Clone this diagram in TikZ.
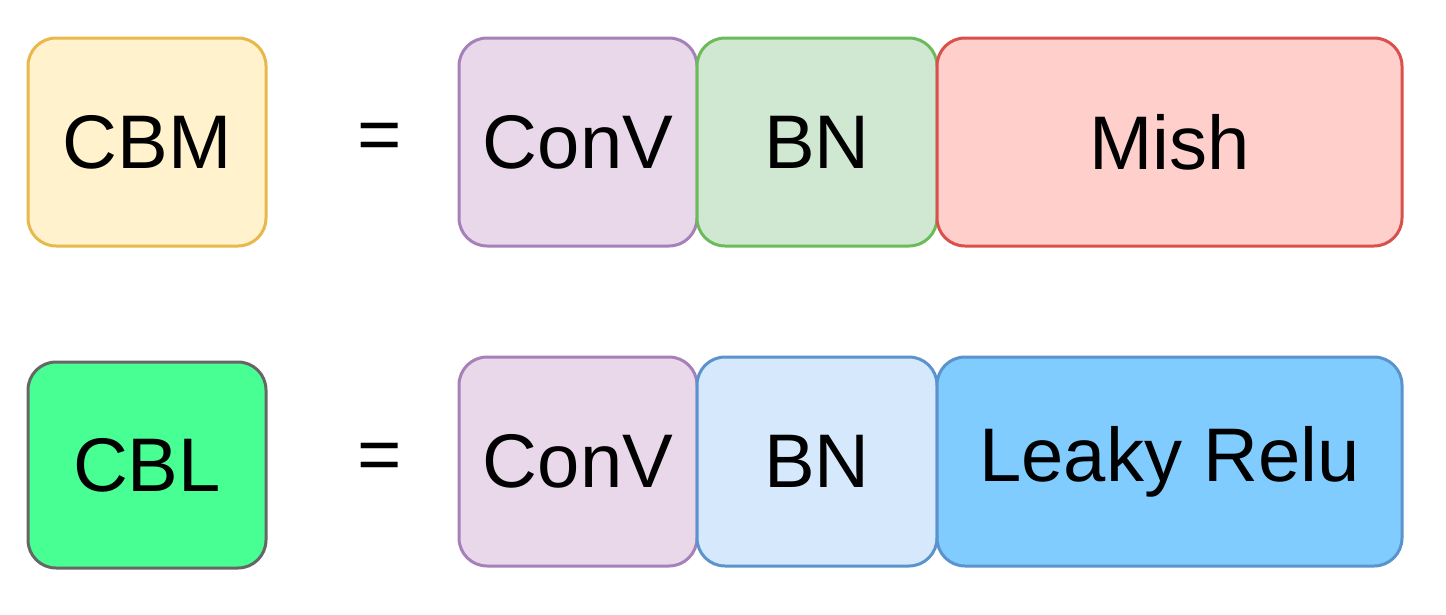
\documentclass[tikz,border=0pt]{standalone}
\usepackage{fontspec}
\setmainfont{Liberation Sans}
\definecolor{cbmF}{HTML}{FFF2CC}\definecolor{cbmD}{HTML}{E8B84A}
\definecolor{cvF}{HTML}{E8D8EA}\definecolor{cvD}{HTML}{A680B8}
\definecolor{bnF}{HTML}{D0E8D2}\definecolor{bnD}{HTML}{6CBB5A}
\definecolor{miF}{HTML}{FFCFCC}\definecolor{miD}{HTML}{D9504C}
\definecolor{cblF}{HTML}{48FF94}\definecolor{cblD}{HTML}{666666}
\definecolor{bn2F}{HTML}{D6E8FC}\definecolor{bn2D}{HTML}{5B93CC}
\definecolor{lrF}{HTML}{80CCFF}
\begin{document}
\begin{tikzpicture}[x=1pt,y=-1pt,
  blk/.style={draw,line width=3pt,rounded corners=28pt},
  lbl/.style={font=\fontsize{76}{80}\selectfont,text=black}]
\useasboundingbox (0,0) rectangle (1446,614);
\foreach \nm/\xa/\xb/\ya/\yb/\f/\d/\t in {
  cbm/28/266/38/246/cbmF/cbmD/CBM,
  cva/459/697/38/246/cvF/cvD/ConV,
  bna/697/937/38/246/bnF/bnD/BN,
  mish/937/1402/38/246/miF/miD/Mish,
  cbl/28/266/362/568/cblF/cblD/CBL,
  cvb/459/697/357/566/cvF/cvD/ConV,
  bnb/697/937/357/566/bn2F/bn2D/BN,
  leaky/937/1402/357/566/lrF/bn2D/Leaky Relu}{
  \draw[blk,fill=\f,draw=\d] (\xa,\ya) rectangle (\xb,\yb);
  \node[lbl] (\nm) at ({(\xa+\xb)/2},{(\ya+\yb)/2}) {\t};
}
\node[lbl] (eqa) at (380,142) {=};
\node[lbl] (eqb) at (380,462) {=};
\end{tikzpicture}
\end{document}
